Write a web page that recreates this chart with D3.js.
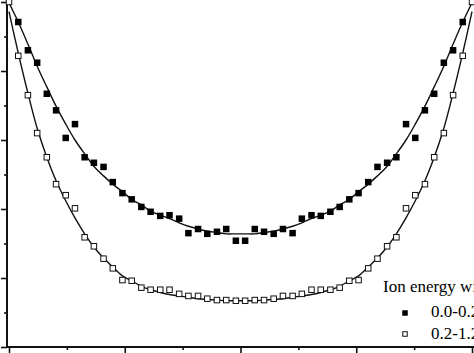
<!DOCTYPE html>
<html><head><meta charset="utf-8">
<script src="https://cdn.jsdelivr.net/npm/d3@7"></script>
<style>html,body{margin:0;padding:0;background:#fff;overflow:hidden}</style>
</head><body>
<svg id="c" width="474" height="353"></svg>
<script>
const xVals = [-60,-57.6,-55.1,-52.7,-50.2,-47.8,-45.3,-42.9,-40.4,-38.0,-35.5,-33.1,-30.6,-28.2,-25.7,-23.3,-20.8,-18.4,-15.9,-13.5,-11.0,-8.6,-6.1,-3.7,-1.2,1.2,3.7,6.1,8.6,11.0,13.5,15.9,18.4,20.8,23.3,25.7,28.2,30.6,33.1,35.5,38.0,40.4,42.9,45.3,47.8,50.2,52.7,55.1,57.6,60];
const lowEnergy = [null,4.71,4.30,4.12,3.67,3.43,3.03,3.23,2.75,2.67,2.61,2.39,2.23,2.14,2.03,1.96,1.90,1.91,1.86,1.65,1.71,1.64,1.67,1.71,1.54,1.54,1.71,1.67,1.64,1.71,1.65,1.86,1.91,1.90,1.96,2.03,2.14,2.23,2.39,2.61,2.67,2.75,3.23,3.03,3.43,3.67,4.12,4.30,4.71,null];
const highEnergy = [5.00,4.22,3.65,3.10,2.75,2.36,2.20,2.01,1.59,1.46,1.28,1.14,0.97,0.96,0.86,0.83,0.83,0.83,0.77,0.74,0.74,0.70,0.68,0.68,0.67,0.67,0.68,0.68,0.70,0.74,0.74,0.77,0.83,0.83,0.83,0.86,0.96,0.97,1.14,1.28,1.46,1.59,2.01,2.20,2.36,2.75,3.10,3.65,4.22,5.00];
const fitLow = [4.99,4.71,4.39,4.07,3.77,3.49,3.23,3.00,2.80,2.62,2.48,2.36,2.25,2.14,2.06,1.97,1.91,1.86,1.80,1.75,1.71,1.68,1.66,1.64,1.64,1.64,1.64,1.66,1.68,1.71,1.75,1.80,1.86,1.91,1.97,2.06,2.14,2.25,2.36,2.48,2.62,2.80,3.00,3.23,3.49,3.77,4.07,4.39,4.71,4.99];
const fitHigh = [4.86,4.26,3.68,3.17,2.75,2.41,2.12,1.87,1.64,1.45,1.29,1.16,1.03,0.96,0.88,0.83,0.79,0.76,0.74,0.72,0.70,0.69,0.68,0.67,0.67,0.67,0.67,0.68,0.69,0.70,0.72,0.74,0.76,0.79,0.83,0.88,0.96,1.03,1.16,1.29,1.45,1.64,1.87,2.12,2.41,2.75,3.17,3.68,4.26,4.86];
const xMajorTicks = [-60,-30,0,30,60];
const xMinorTicks = [-45,-15,15,45];
const yMajorTicks = [0,1,2,3,4,5];
const yMinorTicks = [0.5,1.5,2.5,3.5,4.5];
const legendTitle = "Ion energy window";
const seriesNames = ["0.0-0.2 eV","0.2-1.2 eV"];

const svg = d3.select("#c");
svg.append("rect").attr("width",474).attr("height",353).attr("fill","#fff");
const x = d3.scaleLinear().domain([-60,60]).range([9,472]);
const y = d3.scaleLinear().domain([0,5]).range([347,2]);
const axX = 7, axY = 347;

// axes lines
svg.append("line").attr("x1",axX).attr("x2",474).attr("y1",axY).attr("y2",axY).attr("stroke","#111").attr("stroke-width",2);
svg.append("line").attr("x1",axX).attr("x2",axX).attr("y1",0).attr("y2",axY).attr("stroke","#111").attr("stroke-width",2);

function xTicks(vals,len){
  const g = svg.append("g").attr("transform",`translate(0,${axY})`)
    .call(d3.axisBottom(x).tickValues(vals).tickSize(len).tickFormat(""));
  g.select(".domain").remove();
  g.selectAll("line").attr("stroke","#111").attr("stroke-width",1.6);
}
function yTicks(vals,len){
  const g = svg.append("g").attr("transform",`translate(${axX},0)`)
    .call(d3.axisLeft(y).tickValues(vals).tickSize(len).tickFormat(""));
  g.select(".domain").remove();
  g.selectAll("line").attr("stroke","#111").attr("stroke-width",1.6);
}
xTicks(xMajorTicks,6); xTicks(xMinorTicks,3);
yTicks(yMajorTicks,6); yTicks(yMinorTicks,3);

// fit lines
const line = d3.line().x(d=>x(d[0])).y(d=>y(d[1])).curve(d3.curveCatmullRom.alpha(0.5));
[fitLow, fitHigh].forEach(f=>{
  svg.append("path").attr("d", line(xVals.map((v,i)=>[v,f[i]])))
    .attr("fill","none").attr("stroke","#111").attr("stroke-width",1.4);
});

const s = 6.5;
const lowPts = xVals.map((v,i)=>[v,lowEnergy[i]]).filter(d=>d[1]!==null);
svg.append("g").selectAll("rect").data(lowPts).join("rect")
  .attr("x",d=>x(d[0])-s/2).attr("y",d=>y(d[1])-s/2).attr("width",s).attr("height",s)
  .attr("fill","#000");
const highPts = xVals.map((v,i)=>[v,highEnergy[i]]);
svg.append("g").selectAll("rect").data(highPts).join("rect")
  .attr("x",d=>x(d[0])-s/2+0.5).attr("y",d=>y(d[1])-s/2+0.5).attr("width",s-1).attr("height",s-1)
  .attr("fill","#fff").attr("stroke","#111").attr("stroke-width",1);

// legend
const fnt = "'Liberation Serif','Times New Roman',serif";
svg.append("text").attr("x",383).attr("y",292).attr("font-family",fnt).attr("font-size",17).attr("fill","#000").text(legendTitle);
const ls = 5.5;
svg.append("rect").attr("x",405-ls/2).attr("y",313-ls/2).attr("width",ls).attr("height",ls).attr("fill","#000");
svg.append("rect").attr("x",405-ls/2+0.5).attr("y",334-ls/2+0.5).attr("width",ls-1).attr("height",ls-1).attr("fill","#fff").attr("stroke","#111").attr("stroke-width",1);
svg.append("text").attr("x",431).attr("y",317).attr("font-family",fnt).attr("font-size",17).attr("fill","#000").text(seriesNames[0]);
svg.append("text").attr("x",431).attr("y",339).attr("font-family",fnt).attr("font-size",17).attr("fill","#000").text(seriesNames[1]);
</script>
</body></html>
